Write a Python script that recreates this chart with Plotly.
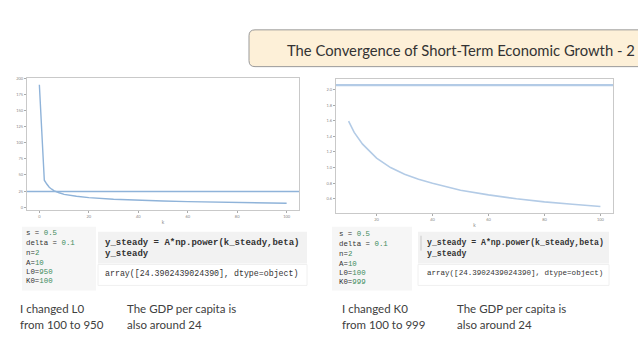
import plotly.graph_objects as go

W, H = 638, 359

# ---- data ----
left_k = [0, 2, 3, 4, 5, 6, 8, 10, 15, 20, 30, 40, 50, 60, 70, 80, 90, 100]
left_y = [190, 42, 36, 31, 28, 25.5, 22.5, 20, 17, 15, 12.5, 10.8, 9.6, 8.7, 8.0, 7.2, 6.7, 6.2]
left_steady = 24.39
left_yticks = [0, 25, 50, 75, 100, 125, 150, 175, 200]

right_k = [10, 12, 15, 20, 25, 30, 35, 40, 50, 60, 70, 80, 90, 100]
right_y = [1.595, 1.45, 1.30, 1.12, 1.0, 0.915, 0.85, 0.80, 0.71, 0.65, 0.60, 0.56, 0.53, 0.50]
right_steady = 2.055
right_yticks = [0.6, 0.8, 1.0, 1.2, 1.4, 1.6, 1.8, 2.0]

xticks_left = [0, 20, 40, 60, 80, 100]
xticks_right = [20, 40, 60, 80, 100]

title = "The Convergence of Short-Term Economic Growth - 2"
params_left = [("s = ", "0.5"), ("delta = ", "0.1"), ("n=", "2"), ("A=", "10"), ("L0=", "950"), ("K0=", "100")]
params_right = [("s = ", "0.5"), ("delta = ", "0.1"), ("n=", "2"), ("A=", "10"), ("L0=", "100"), ("K0=", "999")]
code_lines = ["y_steady = A*np.power(k_steady,beta)", "y_steady"]
output_line = "array([24.3902439024390], dtype=object)"
note_left = ["I changed L0", "from 100 to 950"]
note_right = ["I changed K0", "from 100 to 999"]
gdp_note = ["The GDP per capita is", "also around 24"]


def px(x):
    return x / W


def py(y):
    return 1 - y / H


fig = go.Figure()

fig.add_trace(go.Scatter(x=left_k, y=left_y, mode="lines", line=dict(color="#8fb3d9", width=1.4),
                         xaxis="x", yaxis="y", showlegend=False, hoverinfo="skip"))
fig.add_trace(go.Scatter(x=right_k, y=right_y, mode="lines", line=dict(color="#b3cbe6", width=1.6),
                         xaxis="x2", yaxis="y2", showlegend=False, hoverinfo="skip"))

fig.add_shape(type="line", xref="x domain", yref="y", x0=0, x1=1, y0=left_steady, y1=left_steady,
              line=dict(color="#8fb3d9", width=1.3))
fig.add_shape(type="line", xref="x2 domain", yref="y2", x0=0, x1=1, y0=right_steady, y1=right_steady,
              line=dict(color="#b3cbe6", width=2.2))

axis_common = dict(showline=True, mirror=True, linecolor="#c9c9c9", linewidth=1, showgrid=False,
                   zeroline=False, ticks="outside", ticklen=2, tickcolor="#aaaaaa",
                   tickfont=dict(size=4, color="#888888"), fixedrange=True)

fig.update_layout(
    width=W, height=H,
    margin=dict(l=0, r=0, t=0, b=0),
    paper_bgcolor="white", plot_bgcolor="white",
    xaxis=dict(domain=[px(27), px(299)], range=[-5, 105], tickvals=xticks_left, anchor="y",
               title=dict(text="k", font=dict(size=5, color="#888"), standoff=2), **axis_common),
    yaxis=dict(domain=[py(209), py(76)], range=[-4, 201], tickvals=left_yticks, anchor="x", **axis_common),
    xaxis2=dict(domain=[px(336), px(613)], range=[5.5, 104.5], tickvals=xticks_right, anchor="y2",
                title=dict(text="k", font=dict(size=5, color="#888"), standoff=2), **axis_common),
    yaxis2=dict(domain=[py(212), py(77)], range=[0.42, 2.14], tickvals=right_yticks, tickformat=".1f",
                anchor="x2", **axis_common),
    font=dict(family="Lato, Liberation Sans, sans-serif"),
)

shapes = []
# faint backgrounds of the chart images
shapes.append(dict(type="rect", xref="paper", yref="paper", layer="below", x0=px(18), x1=px(306), y0=py(222), y1=py(71),
                   fillcolor="#f8f8f8", line=dict(width=0)))
shapes.append(dict(type="rect", xref="paper", yref="paper", layer="below", x0=px(326), x1=px(621), y0=py(222), y1=py(72),
                   fillcolor="#f8f8f8", line=dict(width=0)))

# title rounded box
x0, x1, y0, y1, r = 249, 650, 28, 65, 6
path = (f"M {px(x0 + r)},{py(y0)} L {px(x1)},{py(y0)} L {px(x1)},{py(y1)} L {px(x0 + r)},{py(y1)} "
        f"Q {px(x0)},{py(y1)} {px(x0)},{py(y1 - r)} L {px(x0)},{py(y0 + r)} Q {px(x0)},{py(y0)} {px(x0 + r)},{py(y0)} Z")
shapes.append(dict(type="path", xref="paper", yref="paper", path=path, fillcolor="#fdf0d8",
                   line=dict(color="#9a9a9a", width=1)))

# code boxes
for (bx0, bx1) in [(22, 96), (332, 412)]:
    shapes.append(dict(type="rect", xref="paper", yref="paper", layer="below", x0=px(bx0), x1=px(bx1), y0=py(290), y1=py(226),
                       fillcolor="#f6f6f6", line=dict(width=0)))
for (bx0, bx1) in [(98, 307), (418, 609)]:
    shapes.append(dict(type="rect", xref="paper", yref="paper", layer="below", x0=px(bx0), x1=px(bx1), y0=py(263), y1=py(231),
                       fillcolor="#f2f2f2", line=dict(width=0)))
    shapes.append(dict(type="rect", xref="paper", yref="paper", layer="below", x0=px(bx0), x1=px(bx1), y0=py(285), y1=py(264),
                       fillcolor="#ffffff", line=dict(color="#f0f0f0", width=1)))
shapes.append(dict(type="line", xref="paper", yref="paper", x0=px(421), x1=px(421), y0=py(250), y1=py(235),
                   line=dict(color="#c8c8c8", width=1)))

fig.update_layout(shapes=shapes)

ann = []
ann.append(dict(text=title, x=px(285), y=py(48), xref="paper", yref="paper", xanchor="left", yanchor="middle",
                showarrow=False, font=dict(family="Lato, sans-serif", size=14.8, color="#333333")))

mono = "Liberation Mono, DejaVu Sans Mono, monospace"
green = "#3d8b5c"
for params, bx, ys in [(params_left, 24, [232, 242, 252, 262, 272, 281]),
                       (params_right, 337, [233, 243, 253, 263, 273, 282])]:
    for (k, v), yy in zip(params, ys):
        ann.append(dict(text=f"{k}<span style='color:{green}'>{v}</span>", x=px(bx), y=py(yy),
                        xref="paper", yref="paper", xanchor="left", yanchor="middle", showarrow=False,
                        font=dict(family=mono, size=7.4, color="#333333")))

for bx, fs in [(103, 9.0), (425, 8.2)]:
    for line, yy in zip(code_lines, [242, 253]):
        ann.append(dict(text=f"<b>{line}</b>", x=px(bx), y=py(yy), xref="paper", yref="paper",
                        xanchor="left", yanchor="middle", showarrow=False,
                        font=dict(family=mono, size=fs, color="#333333")))
    ann.append(dict(text=output_line, x=px(bx), y=py(273), xref="paper", yref="paper",
                    xanchor="left", yanchor="middle", showarrow=False,
                    font=dict(family=mono, size=fs * 0.92, color="#333333")))

for lines, bx in [(note_left, 18), (gdp_note, 125), (note_right, 340), (gdp_note, 455)]:
    for line, yy in zip(lines, [308, 324]):
        ann.append(dict(text=line, x=px(bx), y=py(yy), xref="paper", yref="paper",
                        xanchor="left", yanchor="middle", showarrow=False,
                        font=dict(family="Lato, sans-serif", size=11.5, color="#404040")))

fig.update_layout(annotations=ann)

fig.write_html("out.html", config={"displayModeBar": False, "staticPlot": True},
               post_script="document.body.style.margin='0';document.body.style.overflow='hidden';")
